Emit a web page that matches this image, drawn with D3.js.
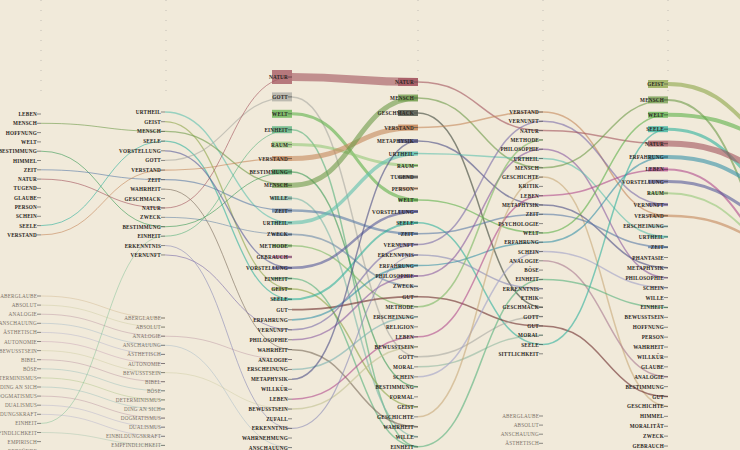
<!DOCTYPE html>
<html><head><meta charset="utf-8">
<script src="https://cdn.jsdelivr.net/npm/d3@7"></script>
<style>body{margin:0;background:#f1eada}svg{display:block}</style>
</head><body><svg id="c" width="740" height="450"></svg>
<script>
const col0Terms=["LEBEN","MENSCH","HOFFNUNG","WELT","BESTIMMUNG","HIMMEL","ZEIT","NATUR","TUGEND","GLAUBE","PERSON","SCHEIN","SEELE","VERSTAND"];
const col0Weights=[1,1,1,1,1,1,1,1,1,1,1,1,1,1];
const col0Lower=["ABERGLAUBE","ABSOLUT","ANALOGIE","ANSCHAUUNG","ÄSTHETISCH","AUTONOMIE","BEWUSSTSEIN","BIBEL","BÖSE","DETERMINISMUS","DING AN SICH","DOGMATISMUS","DUALISMUS","EINBILDUNGSKRAFT","EINHEIT","EMPFINDLICHKEIT","EMPIRISCH","ERBSÜNDE"];
const col1Terms=["URTHEIL","GEIST","MENSCH","SEELE","VORSTELLUNG","GOTT","VERSTAND","ZEIT","WAHRHEIT","GESCHMACK","NATUR","ZWECK","BESTIMMUNG","EINHEIT","ERKENNTNIS","VERNUNFT"];
const col1Weights=[1.3,1.3,1.3,1.3,1.3,1.2,1.2,1.2,1,1,1,1,1,1,1,1];
const col1Lower=["ABERGLAUBE","ABSOLUT","ANALOGIE","ANSCHAUUNG","ÄSTHETISCH","AUTONOMIE","BEWUSSTSEIN","BIBEL","BÖSE","DETERMINISMUS","DING AN SICH","DOGMATISMUS","DUALISMUS","EINBILDUNGSKRAFT","EMPFINDLICHKEIT"];
const col2Terms=["NATUR","GOTT","WELT","EINHEIT","RAUM","VERSTAND","BESTIMMUNG","MENSCH","WILLE","ZEIT","URTHEIL","ZWECK","METHODE","GEBRAUCH","VORSTELLUNG","EINHEIT ","GEIST","SEELE","GUT","ERFAHRUNG","VERNUNFT","PHILOSOPHIE","WAHRHEIT","ANALOGIE","ERSCHEINUNG","METAPHYSIK","WILLKÜR","LEBEN","BEWUSSTSEIN","ZUFALL","ERKENNTNIS","WAHRNEHMUNG","ANSCHAUUNG"];
const col2Weights=[14,9,8,7,6,5,5,5,4,4,3.5,3,3,2.5,2.5,2,2,2,1.8,1.8,1.5,1.5,1.5,1.5,1.5,1.5,1.5,1.5,1.5,1.2,1.2,1.2,1.2];
const col3Terms=["NATUR","MENSCH","GESCHMACK","VERSTAND","METAPHYSIK","URTHEIL","RAUM","TUGEND","PERSON","WELT","VORSTELLUNG","SEELE","ZEIT","VERNUNFT","ERKENNTNIS","ERFAHRUNG","PHILOSOPHIE","ZWECK","GUT","METHODE","ERSCHEINUNG","RELIGION","LEBEN","BEWUSSTSEIN","GOTT","MORAL","SCHEIN","BESTIMMUNG","FORMAL","GEIST","GESCHICHTE","WAHRHEIT","WILLE","EINHEIT"];
const col3Weights=[8,7,6,6,4,4,3,3,3,3,3,2.5,2.5,2,2,2,2,1.8,1.8,1.5,1.5,1.5,1.5,1.5,1.5,1.5,1.5,1.5,1.5,1.5,1.5,1.5,1.5,1.5];
const col4Terms=["VERSTAND","VERNUNFT","NATUR","METHODE","PHILOSOPHIE","URTHEIL","MENSCH","GESCHICHTE","KRITIK","LEBEN","METAPHYSIK","ZEIT","PSYCHOLOGIE","WELT","ERFAHRUNG","SCHEIN","ANALOGIE","BÖSE","EINHEIT","ERKENNTNIS","ETHIK","GESCHMACK","GOTT","GUT","MORAL","SEELE","SITTLICHKEIT"];
const col4Weights=[1.5,1.5,1.5,1.5,1.5,1.5,1.5,1.5,1.5,1.5,1.5,1.5,1.5,1.5,1.5,1.5,1.5,1.5,1.5,1.5,1.5,1.5,1.5,1.5,1.5,1.5,1.5];
const col4Lower=["ABERGLAUBE","ABSOLUT","ANSCHAUUNG","ÄSTHETISCH"];
const col5Terms=["GEIST","MENSCH","WELT","SEELE","NATUR","ERFAHRUNG","LEBEN","VORSTELLUNG","RAUM","VERNUNFT","VERSTAND","ERSCHEINUNG","URTHEIL","ZEIT","PHANTASIE","METAPHYSIK","PHILOSOPHIE","SCHEIN","WILLE","EINHEIT","BEWUSSTSEIN","HOFFNUNG","PERSON","WAHRHEIT","WILLKÜR","GLAUBE","ANALOGIE","BESTIMMUNG","GUT","GESCHICHTE","HIMMEL","MORALITÄT","ZWECK","GEBRAUCH"];
const col5Weights=[8,7,6,6,6,4,4,3.5,3,3,2.5,2,2,2,1.8,1.8,1.5,1.5,1.5,1.5,1.5,1.5,1.5,1.5,1.5,1.5,1.5,1.5,1.5,1.5,1.5,1.5,1.5,1.5];
const col6Terms=["WELT","GEIST","NATUR","ERFAHRUNG","SEELE","VORSTELLUNG","VERSTAND","RAUM","LEBEN","MENSCH"];
const col6Weights=[4,4,6,4,3,3,2.5,2,2,2];

const colX=[41,165,292,418,543,668,830];
const colStart=[114,112,77,82,112,84,150];
const colGap=[8.3,8.4,8.4,8.5,7.8,8.4,14];
const lowerStart=[296,318,null,null,416,null,null];
const cols=[[col0Terms,col0Weights,col0Lower],[col1Terms,col1Weights,col1Lower],[col2Terms,col2Weights,[]],[col3Terms,col3Weights,[]],[col4Terms,col4Weights,col4Lower],[col5Terms,col5Weights,[]],[col6Terms,col6Weights,[]]];

const palette={NATUR:"#a2525c",GOTT:"#a9a9a2",WELT:"#5eb04a",MENSCH:"#6d9a48",VERSTAND:"#c4875a",URTHEIL:"#5cbfae",ZEIT:"#587aa6",GEIST:"#8ca548",SEELE:"#2fb09c",VORSTELLUNG:"#55589a",GESCHMACK:"#3c4438",METAPHYSIK:"#4b4c86",LEBEN:"#b04a8c",ERFAHRUNG:"#3791a8",RAUM:"#95c878",EINHEIT:"#55b07c",BESTIMMUNG:"#3a9a55",WILLE:"#7ab8a8",ZWECK:"#6a88a8",METHODE:"#7ab860",GEBRAUCH:"#b05a90",TUGEND:"#555",PERSON:"#c49a7a",GUT:"#6a2a2a",VERNUNFT:"#7a6aa8",PHILOSOPHIE:"#8a5aa0",WAHRHEIT:"#7a6a5a",HOFFNUNG:"#6a7ab0"};
const extra=["#b88aa8","#9ab870","#c8a878","#88a8c0","#a87890","#90b8a0","#c0b070","#8a8ab8","#b07a6a","#7ab0b0","#c0c090","#a0a0c8"];
function color(t){t=t.trim();if(palette[t])return palette[t];let h=0;for(const c of t)h=(h*31+c.charCodeAt(0))%997;return extra[h%extra.length];}

const svg=d3.select("#c");
const nodes=cols.map((c,i)=>{
  const out=[];let y=colStart[i],prevW=0;
  c[0].forEach((t,j)=>{const w=c[1][j];if(j>0)y+=colGap[i]+(prevW+w)/2;out.push({t:t.trim(),w,y,x:colX[i],col:i,lower:false});prevW=w;});
  c[2].forEach((t,j)=>{out.push({t,w:0.8,y:lowerStart[i]+j*9.1,x:colX[i],col:i,lower:true});});
  return out;
});
[41,166,418,543,668].forEach(x=>svg.append("line").attr("x1",x).attr("x2",x).attr("y1",0).attr("y2",95).attr("stroke","#888").attr("stroke-width",0.6).attr("stroke-dasharray","1,9").attr("opacity",0.7));
const linkG=svg.append("g");
for(let i=0;i<nodes.length-1;i++){
  nodes[i].forEach(s=>{
    const tgt=nodes[i+1].find(n=>n.t===s.t);
    if(!tgt)return;
    const w=Math.min(s.w,tgt.w);
    const dx=tgt.x-s.x;
    const p=d3.path();p.moveTo(s.x,s.y);p.bezierCurveTo(s.x+dx*0.5,s.y,tgt.x-dx*0.5,tgt.y,tgt.x,tgt.y);
    linkG.append("path").attr("d",p.toString()).attr("fill","none").attr("stroke",color(s.t))
      .attr("stroke-width",Math.max(0.7,w)).attr("opacity",w>2?0.6:(s.lower?0.45:0.6));
  });
}
nodes.forEach(col=>col.forEach(n=>{
  if(n.w>=2){svg.append("rect").attr("x",n.x-20).attr("y",n.y-n.w/2).attr("width",20).attr("height",n.w).attr("fill",color(n.t)).attr("opacity",0.75);}
  svg.append("line").attr("x1",n.x-4).attr("x2",n.x).attr("y1",n.y).attr("y2",n.y).attr("stroke","#444").attr("stroke-width",0.6);
  svg.append("text").attr("x",n.x-4).attr("y",n.y+2).attr("text-anchor","end").text(n.t)
    .attr("font-family","Liberation Serif, DejaVu Serif, serif").attr("font-size",5.2).attr("letter-spacing",0.2)
    .attr("font-weight",n.lower?"normal":"bold").attr("fill",n.lower?"#7a7268":"#2a2622");
}));
</script></body></html>
